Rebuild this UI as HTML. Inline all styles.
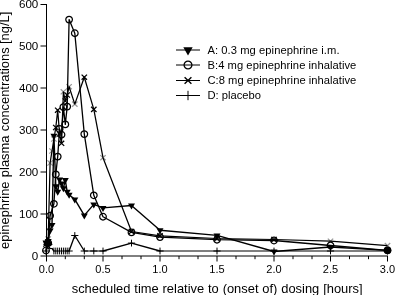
<!DOCTYPE html><html><head><meta charset="utf-8"><title>chart</title>
<style>html,body{margin:0;padding:0;background:#fff}svg{display:block}text{font-family:"Liberation Sans",sans-serif;fill:#000}</style></head><body>
<svg width="395" height="295" viewBox="0 0 395 295">
<rect width="395" height="295" fill="#fff"/>
<defs>
<path id="mt" d="M-3.5,-2.0 L3.5,-2.0 L0,4.0 Z" fill="#000"/>
<circle id="mc" r="3.3" fill="none" stroke="#000" stroke-width="1.25"/>
<path id="mx" d="M-2.7,-2.6 L2.7,2.6 M-2.7,2.6 L2.7,-2.6" stroke="#000" stroke-width="1.3" fill="none"/>
<path id="mp" d="M-3.6,0 L3.6,0 M0,-3.4 L0,3.4" stroke="#000" stroke-width="1" fill="none"/>
<path id="mv" d="M0,-3.4 L0,3.4" stroke="#000" stroke-width="1" fill="none"/>
<path id="lt" d="M-4.7,-2.7 L4.7,-2.7 L0,5.4 Z" fill="#000"/>
<circle id="lc" r="3.9" fill="none" stroke="#000" stroke-width="1.3"/>
<path id="lx" d="M-3.4,-3.3 L3.4,3.3 M-3.4,3.3 L3.4,-3.3" stroke="#000" stroke-width="1.4" fill="none"/>
<path id="lp" d="M0,-4.7 L0,4.7" stroke="#000" stroke-width="1" fill="none"/>
</defs>
<g stroke="#000" stroke-width="1" fill="none">
<path d="M46.5,4 V261.5"/>
<path d="M40.5,214.00 H46.5"/>
<path d="M40.5,172.00 H46.5"/>
<path d="M40.5,130.00 H46.5"/>
<path d="M40.5,88.00 H46.5"/>
<path d="M40.5,46.00 H46.5"/>
<path d="M40.5,4.50 H46.5"/>
<path d="M40.5,256 H388"/>
<path d="M65.30,256 V259.2"/>
<path d="M84.30,256 V259.2"/>
<path d="M103.00,256 V261.5"/>
<path d="M122.00,256 V259.2"/>
<path d="M141.00,256 V259.2"/>
<path d="M160.00,256 V261.5"/>
<path d="M179.00,256 V259.2"/>
<path d="M198.00,256 V259.2"/>
<path d="M217.00,256 V261.5"/>
<path d="M236.00,256 V259.2"/>
<path d="M255.00,256 V259.2"/>
<path d="M274.00,256 V261.5"/>
<path d="M293.00,256 V259.2"/>
<path d="M312.00,256 V259.2"/>
<path d="M330.50,256 V261.5"/>
<path d="M349.50,256 V259.2"/>
<path d="M368.50,256 V259.2"/>
<path d="M387.50,256 V261.5"/>
</g>
<path d="M46.0,251.0 L48.2,246.0" stroke="#000" stroke-width="1.3" stroke-linecap="round" fill="none"/>
<path d="M48.2,246.0 L50.1,248.5" stroke="#000" stroke-width="1.3" stroke-linecap="round" fill="none"/>
<path d="M50.1,248.5 L52.0,248.5" stroke="#000" stroke-width="1.0" stroke-linecap="round" fill="none"/>
<path d="M52.0,248.5 L53.9,251.0" stroke="#000" stroke-width="1.3" stroke-linecap="round" fill="none"/>
<path d="M53.9,251.0 L55.8,251.0" stroke="#000" stroke-width="1.0" stroke-linecap="round" fill="none"/>
<path d="M55.8,251.0 L57.7,251.0" stroke="#000" stroke-width="1.0" stroke-linecap="round" fill="none"/>
<path d="M57.7,251.0 L59.6,251.0" stroke="#000" stroke-width="1.0" stroke-linecap="round" fill="none"/>
<path d="M59.6,251.0 L61.5,251.0" stroke="#000" stroke-width="1.0" stroke-linecap="round" fill="none"/>
<path d="M61.5,251.0 L63.4,251.0" stroke="#000" stroke-width="1.0" stroke-linecap="round" fill="none"/>
<path d="M63.4,251.0 L65.3,251.0" stroke="#000" stroke-width="1.0" stroke-linecap="round" fill="none"/>
<path d="M65.3,251.0 L67.2,251.0" stroke="#000" stroke-width="1.0" stroke-linecap="round" fill="none"/>
<path d="M67.2,251.0 L69.1,251.0" stroke="#000" stroke-width="1.0" stroke-linecap="round" fill="none"/>
<path d="M69.1,251.0 L74.8,235.5" stroke="#000" stroke-width="1.3" stroke-linecap="round" fill="none"/>
<path d="M74.8,235.5 L84.3,251.0" stroke="#000" stroke-width="1.3" stroke-linecap="round" fill="none"/>
<path d="M84.3,251.0 L93.8,251.0" stroke="#000" stroke-width="1.0" stroke-linecap="round" fill="none"/>
<path d="M93.8,251.0 L103.0,251.0" stroke="#000" stroke-width="1.0" stroke-linecap="round" fill="none"/>
<path d="M103.0,251.0 L131.5,243.1" stroke="#000" stroke-width="1.3" stroke-linecap="round" fill="none"/>
<path d="M131.5,243.1 L160.0,251.0" stroke="#000" stroke-width="1.3" stroke-linecap="round" fill="none"/>
<path d="M160.0,251.0 L217.0,251.0" stroke="#000" stroke-width="1.0" stroke-linecap="round" fill="none"/>
<path d="M217.0,251.0 L274.0,251.0" stroke="#000" stroke-width="1.0" stroke-linecap="round" fill="none"/>
<path d="M274.0,251.0 L330.5,251.0" stroke="#000" stroke-width="1.0" stroke-linecap="round" fill="none"/>
<path d="M330.5,251.0 L387.5,251.0" stroke="#000" stroke-width="1.0" stroke-linecap="round" fill="none"/>
<use href="#mp" x="46.0" y="251.0"/>
<use href="#mv" x="53.9" y="251.0"/>
<use href="#mv" x="55.8" y="251.0"/>
<use href="#mv" x="57.7" y="251.0"/>
<use href="#mv" x="59.6" y="251.0"/>
<use href="#mv" x="61.5" y="251.0"/>
<use href="#mv" x="63.4" y="251.0"/>
<use href="#mv" x="65.3" y="251.0"/>
<use href="#mv" x="67.2" y="251.0"/>
<use href="#mp" x="69.1" y="251.0"/>
<use href="#mp" x="74.8" y="235.5"/>
<use href="#mp" x="84.3" y="251.0"/>
<use href="#mp" x="93.8" y="251.0"/>
<use href="#mp" x="103.0" y="251.0"/>
<use href="#mp" x="131.5" y="243.1"/>
<use href="#mp" x="160.0" y="251.0"/>
<use href="#mp" x="217.0" y="251.0"/>
<use href="#mp" x="274.0" y="251.0"/>
<use href="#mp" x="330.5" y="251.0"/>
<use href="#mp" x="387.5" y="251.0"/>
<polyline points="46.0,244.0 48.2,239.0 50.1,163.0 52.0,151.0 53.9,139.0 55.8,127.5 57.7,110.2 59.6,134.0 61.5,143.3 63.4,91.8 65.3,101.0 67.2,95.0 69.1,86.7 74.8,104.1 84.3,77.2 93.8,109.4 103.0,157.7 131.5,231.5 160.0,235.8 217.0,238.5 274.0,239.5 330.5,241.2 387.5,245.6" fill="none" stroke="#000" stroke-width="1.25" stroke-linejoin="round"/>
<use href="#mx" x="46.0" y="244.0"/>
<use href="#mx" x="48.2" y="239.0" opacity="0.4"/>
<use href="#mx" x="50.1" y="163.0" opacity="0.4"/>
<use href="#mx" x="52.0" y="151.0" opacity="0.4"/>
<use href="#mx" x="53.9" y="139.0" opacity="0.4"/>
<use href="#mx" x="55.8" y="127.5"/>
<use href="#mx" x="57.7" y="110.2"/>
<use href="#mx" x="59.6" y="134.0"/>
<use href="#mx" x="61.5" y="143.3"/>
<use href="#mx" x="63.4" y="91.8" opacity="0.4"/>
<use href="#mx" x="65.3" y="101.0"/>
<use href="#mx" x="67.2" y="95.0"/>
<use href="#mx" x="69.1" y="86.7" opacity="0.4"/>
<use href="#mx" x="74.8" y="104.1" opacity="0.4"/>
<use href="#mx" x="84.3" y="77.2"/>
<use href="#mx" x="93.8" y="109.4"/>
<use href="#mx" x="103.0" y="157.7" opacity="0.4"/>
<use href="#mx" x="131.5" y="231.5"/>
<use href="#mx" x="160.0" y="235.8"/>
<use href="#mx" x="217.0" y="238.5"/>
<use href="#mx" x="274.0" y="239.5"/>
<use href="#mx" x="330.5" y="241.2" opacity="0.4"/>
<use href="#mx" x="387.5" y="245.6" opacity="0.4"/>
<polyline points="46.0,250.5 48.2,243.0 50.1,215.7 53.9,203.8 55.8,174.4 57.7,156.6 59.6,129.0 61.5,134.7 63.4,107.1 65.3,124.4 67.2,106.6 69.1,19.6 74.8,33.2 84.3,134.1 93.8,195.3 103.0,216.7 131.5,232.4 160.0,237.1 217.0,239.7 274.0,240.5 330.5,245.5 387.5,250.4" fill="none" stroke="#000" stroke-width="1.3" stroke-linejoin="round"/>
<use href="#mc" x="46.0" y="250.5"/>
<use href="#mc" x="48.2" y="243.0"/>
<use href="#mc" x="50.1" y="215.7"/>
<use href="#mc" x="53.9" y="203.8"/>
<use href="#mc" x="55.8" y="174.4"/>
<use href="#mc" x="57.7" y="156.6"/>
<use href="#mc" x="59.6" y="129.0"/>
<use href="#mc" x="61.5" y="134.7"/>
<use href="#mc" x="63.4" y="107.1"/>
<use href="#mc" x="65.3" y="124.4"/>
<use href="#mc" x="67.2" y="106.6"/>
<use href="#mc" x="69.1" y="19.6"/>
<use href="#mc" x="74.8" y="33.2"/>
<use href="#mc" x="84.3" y="134.1"/>
<use href="#mc" x="93.8" y="195.3"/>
<use href="#mc" x="103.0" y="216.7"/>
<use href="#mc" x="131.5" y="232.4"/>
<use href="#mc" x="160.0" y="237.1"/>
<use href="#mc" x="217.0" y="239.7"/>
<use href="#mc" x="274.0" y="240.5"/>
<use href="#mc" x="330.5" y="245.5"/>
<use href="#mc" x="387.5" y="250.4"/>
<polyline points="46.0,242.5 48.2,241.0 50.1,230.5 52.0,225.0 53.9,135.7 55.8,186.2 57.7,191.8 59.6,179.6 61.5,183.6 63.4,188.2 65.3,180.1 67.2,191.8 69.1,194.8 74.8,199.4 84.3,215.4 93.8,204.4 103.0,207.9 131.5,205.5 160.0,230.2 217.0,235.4 274.0,251.5 330.5,247.0 387.5,250.4" fill="none" stroke="#000" stroke-width="1.4" stroke-linejoin="round"/>
<use href="#mt" x="46.0" y="242.5"/>
<use href="#mt" x="48.2" y="241.0"/>
<use href="#mt" x="50.1" y="230.5"/>
<use href="#mt" x="52.0" y="225.0"/>
<use href="#mt" x="53.9" y="135.7"/>
<use href="#mt" x="55.8" y="186.2"/>
<use href="#mt" x="57.7" y="191.8"/>
<use href="#mt" x="59.6" y="179.6"/>
<use href="#mt" x="61.5" y="183.6"/>
<use href="#mt" x="63.4" y="188.2"/>
<use href="#mt" x="65.3" y="180.1"/>
<use href="#mt" x="67.2" y="191.8"/>
<use href="#mt" x="69.1" y="194.8"/>
<use href="#mt" x="74.8" y="199.4"/>
<use href="#mt" x="84.3" y="215.4"/>
<use href="#mt" x="93.8" y="204.4"/>
<use href="#mt" x="103.0" y="207.9"/>
<use href="#mt" x="131.5" y="205.5"/>
<use href="#mt" x="160.0" y="230.2"/>
<use href="#mt" x="217.0" y="235.4"/>
<use href="#mt" x="274.0" y="251.5"/>
<use href="#mt" x="330.5" y="247.0"/>
<use href="#mt" x="387.5" y="250.4"/>
<circle cx="387.6" cy="250.3" r="3.6" fill="#000"/>
<path d="M43.2,244.5 L47.6,236.8 L52.6,244.6 L50,246.4 L45.2,246.4 Z" fill="#000"/>
<text x="38.3" y="259.8" font-size="11.6" text-anchor="end">0</text>
<text x="38.3" y="217.8" font-size="11.6" text-anchor="end">100</text>
<text x="38.3" y="175.8" font-size="11.6" text-anchor="end">200</text>
<text x="38.3" y="133.8" font-size="11.6" text-anchor="end">300</text>
<text x="38.3" y="91.8" font-size="11.6" text-anchor="end">400</text>
<text x="38.3" y="49.8" font-size="11.6" text-anchor="end">500</text>
<text x="38.3" y="7.8" font-size="11.6" text-anchor="end">600</text>
<text x="46.5" y="272.6" font-size="11" text-anchor="middle">0.0</text>
<text x="103.0" y="272.6" font-size="11" text-anchor="middle">0.5</text>
<text x="160.0" y="272.6" font-size="11" text-anchor="middle">1.0</text>
<text x="217.0" y="272.6" font-size="11" text-anchor="middle">1.5</text>
<text x="274.0" y="272.6" font-size="11" text-anchor="middle">2.0</text>
<text x="330.5" y="272.6" font-size="11" text-anchor="middle">2.5</text>
<text x="387.5" y="272.6" font-size="11" text-anchor="middle">3.0</text>
<text x="71.7" y="292.6" font-size="12.9" word-spacing="0.3">scheduled time relative to (onset of) dosing [hours]</text>
<text transform="translate(9.4,248.9) rotate(-90)" font-size="12.9" word-spacing="0.8">epinephrine plasma concentrations <tspan dx="-1">[ng/L]</tspan></text>
<path d="M176,50.0 H200" stroke="#000" stroke-width="1" fill="none"/>
<use href="#lt" x="188" y="50.0"/>
<text x="207.5" y="53.8" font-size="11.2" textLength="132.0">A: 0.3 mg epinephrine i.m.</text>
<path d="M176,65.0 H200" stroke="#000" stroke-width="1" fill="none"/>
<use href="#lc" x="188" y="65.0"/>
<text x="207.5" y="68.8" font-size="11.2" textLength="148.8">B:4 mg epinephrine inhalative</text>
<path d="M176,80.5 H200" stroke="#000" stroke-width="1" fill="none"/>
<use href="#lx" x="188" y="80.5"/>
<text x="207.5" y="83.7" font-size="11.2" textLength="148.8">C:8 mg epinephrine inhalative</text>
<path d="M176,95.5 H200" stroke="#000" stroke-width="1" fill="none"/>
<use href="#lp" x="188" y="95.5"/>
<text x="207.5" y="98.7" font-size="11.2" textLength="53.4">D: placebo</text>
</svg></body></html>
